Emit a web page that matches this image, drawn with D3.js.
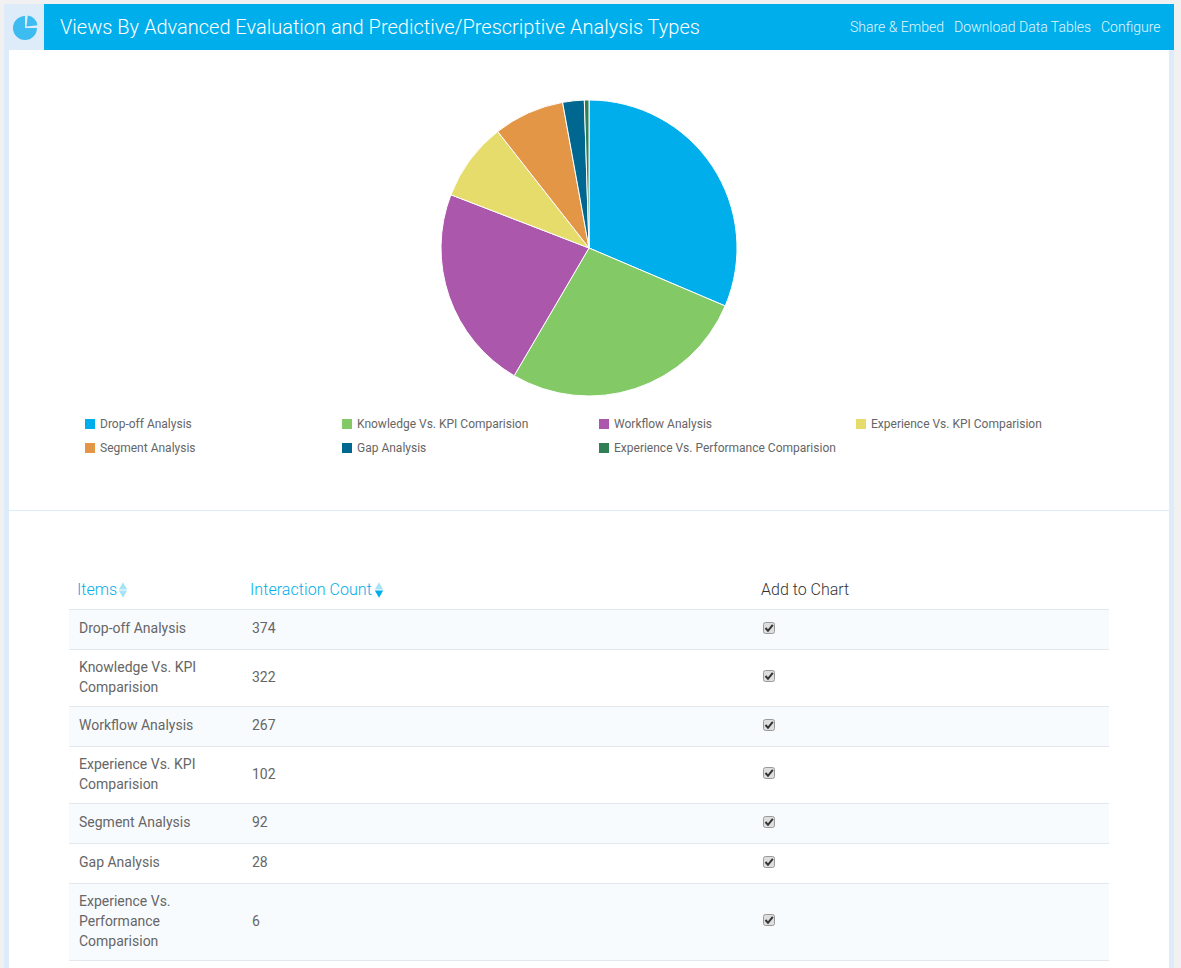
<!DOCTYPE html>
<html>
<head>
<meta charset="utf-8">
<script src="https://cdn.jsdelivr.net/npm/d3@7"></script>
<style>
    html, body { margin: 0; padding: 0; background: #f1f1f1; overflow: hidden; }
    text { font-family: Roboto, sans-serif; }
</style>
</head>
<body>
<svg id="page" width="1181" height="968"></svg>
<script>
const categories = ["Drop-off Analysis", "Knowledge Vs. KPI Comparision", "Workflow Analysis",
    "Experience Vs. KPI Comparision", "Segment Analysis", "Gap Analysis", "Experience Vs. Performance Comparision"];
const counts = [374, 322, 267, 102, 92, 28, 6];
const colors = ["#00aeeb", "#83ca66", "#ab57ac", "#e6dc6b", "#e49647", "#006791", "#2f7f57"];
const tableLines = [["Drop-off Analysis"], ["Knowledge Vs. KPI", "Comparision"], ["Workflow Analysis"],
    ["Experience Vs. KPI", "Comparision"], ["Segment Analysis"], ["Gap Analysis"],
    ["Experience Vs.", "Performance", "Comparision"]];
const headerLinks = ["Share & Embed", "Download Data Tables", "Configure"];
const headerLinkX = [850, 954, 1101];

const svg = d3.select("#page");

// page frame
svg.append("rect").attr("x", 4).attr("y", 4).attr("width", 1170).attr("height", 964).attr("fill", "#deecf9");
svg.append("rect").attr("x", 9).attr("y", 50).attr("width", 1160).attr("height", 918).attr("fill", "#fff");
svg.append("rect").attr("x", 44).attr("y", 4).attr("width", 1130).attr("height", 46).attr("fill", "#00aeeb");

// header icon
const iconArc = d3.arc();
const icon = svg.append("g").attr("transform", "translate(25,28)");
icon.append("path")
    .attr("d", iconArc({innerRadius: 0, outerRadius: 12, startAngle: Math.PI * 0.5, endAngle: Math.PI * 2}))
    .attr("fill", "#3cbcf0");
icon.append("path")
    .attr("transform", "translate(1.5,-1.5)")
    .attr("d", iconArc({innerRadius: 0, outerRadius: 11, startAngle: 0.12, endAngle: Math.PI * 0.5 - 0.12}))
    .attr("fill", "#3cbcf0");

svg.append("text").attr("x", 60).attr("y", 34)
    .attr("font-size", 20).attr("font-weight", 300).attr("fill", "#fff")
    .text("Views By Advanced Evaluation and Predictive/Prescriptive Analysis Types");

svg.selectAll(".hlink").data(headerLinks).join("text")
    .attr("class", "hlink")
    .attr("x", (d, i) => headerLinkX[i]).attr("y", 32)
    .attr("font-size", 14).attr("font-weight", 300).attr("fill", "#e2f6fd")
    .text(d => d);

// pie
const pie = d3.pie().sort(null).value(d => d);
const arc = d3.arc().innerRadius(0).outerRadius(148);
svg.append("g").attr("transform", "translate(589,248)")
    .selectAll("path").data(pie(counts)).join("path")
    .attr("d", arc)
    .attr("fill", (d, i) => colors[i])
    .attr("stroke", "#fff").attr("stroke-width", 1);

// legend
const legendX = d3.scaleBand().domain(d3.range(4)).range([85, 1113]);
const legend = svg.selectAll(".legend").data(categories).join("g")
    .attr("class", "legend")
    .attr("transform", (d, i) => `translate(${legendX(i % 4)},${419 + 24 * Math.floor(i / 4)})`);
legend.append("rect").attr("width", 10).attr("height", 10).attr("fill", (d, i) => colors[i]);
legend.append("text").attr("x", 15).attr("y", 9)
    .attr("font-size", 12).attr("fill", "#666").text(d => d);

// divider
svg.append("line").attr("x1", 9).attr("x2", 1169).attr("y1", 510.5).attr("y2", 510.5).attr("stroke", "#deecf9");

// table header
svg.append("text").attr("x", 77).attr("y", 595).attr("font-size", 16).attr("font-weight", 300).attr("fill", "#00aeeb").text("Items");
svg.append("text").attr("x", 250).attr("y", 595).attr("font-size", 16).attr("font-weight", 300).attr("letter-spacing", 0.06).attr("fill", "#00aeeb").text("Interaction Count");
svg.append("text").attr("x", 761).attr("y", 595).attr("font-size", 16).attr("font-weight", 300).attr("fill", "#333").text("Add to Chart");

function sortArrows(x, activeDown) {
    const tri = d3.symbol().type(d3.symbolTriangle).size(30);
    svg.append("path").attr("d", tri()).attr("transform", `translate(${x},587)`).attr("fill", "#a6e2f8");
    svg.append("path").attr("d", tri()).attr("transform", `translate(${x},593) rotate(180)`)
        .attr("fill", activeDown ? "#00aeeb" : "#a6e2f8");
}
sortArrows(123, false);
sortArrows(379, true);

// table rows
const rowHeight = d => Math.max(40, 17 + 20 * d.length);
let rowY = 609;
const rows = tableLines.map((lines, i) => {
    const r = {lines, count: counts[i], y: rowY, h: rowHeight(lines), tinted: i % 2 === 0};
    rowY += r.h;
    return r;
});

const row = svg.selectAll(".row").data(rows).join("g")
    .attr("class", "row")
    .attr("transform", d => `translate(69,${d.y})`);
row.append("rect").attr("width", 1040).attr("height", d => d.h).attr("fill", d => d.tinted ? "#f8fbfe" : "#fff");
row.append("line").attr("x2", 1040).attr("y1", 0.5).attr("y2", 0.5).attr("stroke", "#e2e8ee");
row.append("text").attr("x", 10)
    .attr("font-size", 14).attr("fill", "#666")
    .selectAll("tspan").data(d => d.lines.map((t, k) => ({t, y: Math.ceil(d.h / 2) + 4 + (k - (d.lines.length - 1) / 2) * 20})))
    .join("tspan").attr("x", 10).attr("y", d => d.y).text(d => d.t);
row.append("text").attr("x", 183).attr("y", d => Math.ceil(d.h / 2) + 4)
    .attr("font-size", 14).attr("fill", "#666").text(d => d.count);

// checkboxes
const box = row.append("g").attr("transform", d => `translate(694,${Math.floor(d.h / 2) - 7})`);
box.append("rect").attr("x", 0.5).attr("y", 0.5).attr("width", 11).attr("height", 11).attr("rx", 2)
    .attr("fill", "#dedede").attr("stroke", "#9a9a9a");
box.append("path").attr("d", "M2.5,6 L5,8.8 L9.8,2.8").attr("fill", "none").attr("stroke", "#333").attr("stroke-width", 2);

svg.append("line").attr("x1", 69).attr("x2", 1109).attr("y1", rowY + 0.5).attr("y2", rowY + 0.5).attr("stroke", "#e2e8ee");
</script>
</body>
</html>
